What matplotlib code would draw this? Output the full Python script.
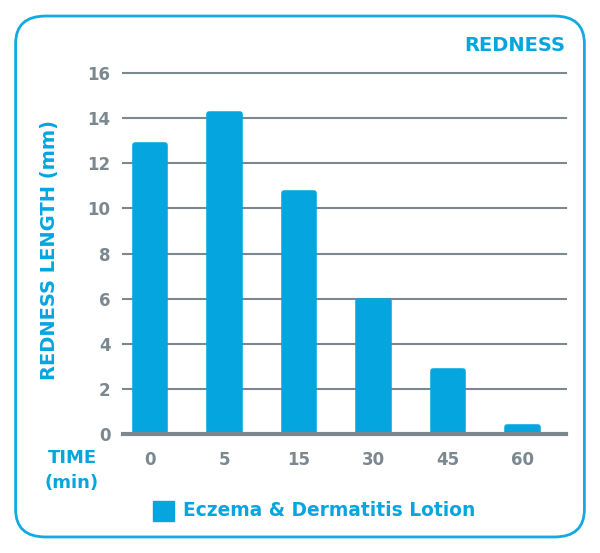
import matplotlib
matplotlib.use("Agg")
import matplotlib.pyplot as plt
from matplotlib.patches import FancyBboxPatch, Rectangle

times = ["0", "5", "15", "30", "45", "60"]
redness = [12.8, 14.2, 10.7, 5.9, 2.8, 0.3]
y_ticks = [0, 2, 4, 6, 8, 10, 12, 14, 16]
series_name = "Eczema & Dermatitis Lotion"

blue = "#05a5df"
grey = "#7b8890"
plt.rcParams["font.family"] = ["DejaVu Sans"]

fig = plt.figure(figsize=(6, 5.53), dpi=100)

# rounded frame around everything
frame = FancyBboxPatch((0.026, 0.029), 0.948, 0.942,
                       boxstyle="round,pad=0,rounding_size=0.05",
                       transform=fig.transFigure, fill=False,
                       edgecolor="#12aae2", linewidth=2)
fig.patches.append(frame)

ax = fig.add_axes([0.205, 0.215, 0.738, 0.653])
x = list(range(len(times)))
ax.bar(x, redness, width=0.41, color=blue, edgecolor=blue,
       linewidth=4, joinstyle="round", zorder=3)

ax.set_ylim(0, 16)
ax.set_xlim(-0.36, 5.58)
ax.set_yticks(y_ticks)
ax.set_xticks(x)
ax.set_xticklabels(times)
for t in y_ticks[1:]:
    ax.axhline(t, color=grey, linewidth=1.5, zorder=1, clip_on=False)
ax.axhline(0, color=grey, linewidth=3, zorder=4, clip_on=False)

for s in ax.spines.values():
    s.set_visible(False)
ax.tick_params(length=0, colors=grey, labelsize=12)
ax.tick_params(axis="y", pad=9)
ax.tick_params(axis="x", pad=12)
for lab in ax.get_xticklabels() + ax.get_yticklabels():
    lab.set_fontweight("bold")

ax.set_ylabel("REDNESS LENGTH (mm)", color=blue, fontsize=14,
              fontweight="bold")
ax.yaxis.set_label_coords(-0.145, 0.51)

fig.text(0.942, 0.917, "REDNESS", color=blue, fontsize=14,
         fontweight="bold", ha="right", va="center")
fig.text(0.12, 0.172, "TIME", color=blue, fontsize=13,
         fontweight="bold", ha="center", va="center")
fig.text(0.12, 0.127, "(min)", color=blue, fontsize=13,
         fontweight="bold", ha="center", va="center")

fig.patches.append(Rectangle((0.255, 0.058), 0.035, 0.036,
                             transform=fig.transFigure, color=blue))
fig.text(0.305, 0.076, series_name, color=blue, fontsize=13.4,
         fontweight="bold", ha="left", va="center")

fig.savefig("out.png", dpi=100, facecolor="white")
